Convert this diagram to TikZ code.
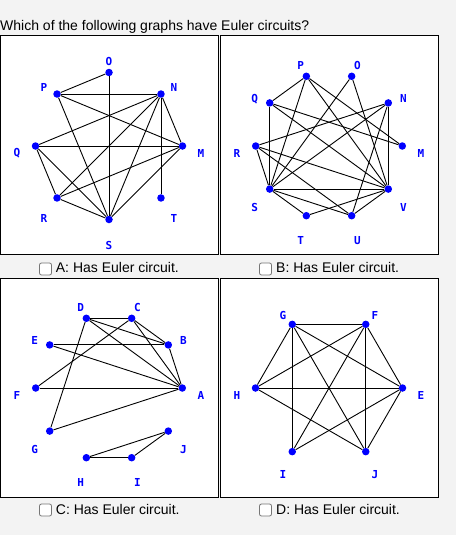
\documentclass[tikz,border=0pt]{standalone}
\usepackage{fontspec}
\setmainfont{Liberation Sans}
\newfontfamily\lblfont{DejaVu Sans Mono}
\usetikzlibrary{calc}
\definecolor{bg}{HTML}{F3F3F3}
\definecolor{dotblue}{HTML}{0000FF}
\definecolor{boxgray}{HTML}{767676}
\begin{document}
\begin{tikzpicture}[x=1pt,y=-1pt,
  dot/.style={circle,fill=dotblue,inner sep=0pt,minimum size=7.5pt},
  lbl/.style={text=dotblue,font=\lblfont\bfseries\fontsize{11}{11}\selectfont,inner sep=0pt},
  edge/.style={line width=0.9pt,black},
  panel/.style={draw=black,line width=1pt,fill=white},
  cbox/.style={draw=boxgray,fill=white,rounded corners=2pt,line width=0.8pt},
  txt/.style={font=\fontsize{14}{16}\selectfont,inner sep=0pt,anchor=base west,text=black}]
\path[fill=bg] (0,0) rectangle (456,535);
\useasboundingbox (0,0) rectangle (456,535);

\node[txt] (title) at (0,30.7) {Which of the following graphs have Euler circuits?};

% panels
\draw[panel] (0,36) rectangle (218,254);
\draw[panel] (220,36) rectangle (438,254);
\draw[panel] (0,278) rectangle (218,497);
\draw[panel] (220,278) rectangle (438,497);

% check boxes and captions
\draw[cbox] (39.5,263) rectangle (51.5,275);
\draw[cbox] (259.5,263) rectangle (271.5,275);
\draw[cbox] (39.5,504) rectangle (51.5,516);
\draw[cbox] (259.5,504) rectangle (271.5,516);
\node[txt] (capA) at (55.7,272.5) {A: Has Euler circuit.};
\node[txt] (capB) at (276,272.5) {B: Has Euler circuit.};
\node[txt] (capC) at (55.7,514) {C: Has Euler circuit.};
\node[txt] (capD) at (276,514) {D: Has Euler circuit.};

% ---------- Graph A ----------
\foreach \n/\a in {M/0,N/45,O/90,P/135,Q/180,R/225,S/270,T/315}{
  \node[dot] (a\n) at ($(109,146)+(-\a:73.5)$) {};
  \node[lbl] (la\n) at ($(109,146)+(-\a:92)+(0,7)$) {\n};
}
\foreach \u/\v in {P/O,O/S,P/N,P/M,P/S,N/Q,N/R,N/S,N/T,N/M,Q/M,Q/R,Q/S,R/M,R/S,M/S}
  \draw[edge] (a\u) -- (a\v);

% ---------- Graph B ----------
\foreach \n/\a in {M/0,N/36,O/72,P/108,Q/144,R/180,S/216,T/252,U/288,V/324}{
  \node[dot] (b\n) at ($(329,146)+(-\a:73.3)$) {};
  \node[lbl] (lb\n) at ($(329,146)+(-\a:92)+(0,7)$) {\n};
}
\foreach \u/\v in {P/Q,P/S,P/M,P/V,Q/S,Q/M,Q/V,R/N,R/S,R/V,R/U,O/S,O/V,N/S,N/U,N/V,S/V,S/T,S/U,T/V,U/V}
  \draw[edge] (b\u) -- (b\v);

% ---------- Graph C ----------
\foreach \n/\a in {A/0,B/36,C/72,D/108,E/144,F/180,G/216,H/252,I/288,J/324}{
  \node[dot] (c\n) at ($(109,388)+(-\a:73.3)$) {};
  \node[lbl] (lc\n) at ($(109,388)+(-\a:92)+(0,7)$) {\n};
}
\foreach \u/\v in {D/C,D/B,D/A,D/G,C/B,C/A,C/F,E/B,E/A,B/A,F/A,G/A,H/I,H/J,I/J}
  \draw[edge] (c\u) -- (c\v);

% ---------- Graph D ----------
\foreach \n/\a in {E/0,F/60,G/120,H/180,I/240,J/300}{
  \node[dot] (d\n) at ($(329,388)+(-\a:73.5)$) {};
  \node[lbl] (ld\n) at ($(329,388)+(-\a:92)+(0,7)$) {\n};
}
\foreach \u/\v in {G/F,G/H,G/I,G/J,G/E,F/H,F/E,F/J,F/I,H/E,H/J,I/E,J/E}
  \draw[edge] (d\u) -- (d\v);
\end{tikzpicture}
\end{document}
